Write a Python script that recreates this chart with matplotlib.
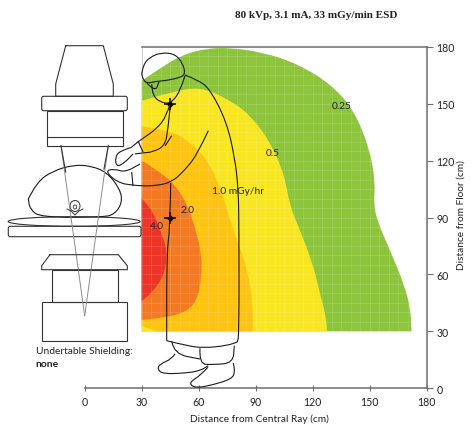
# -*- coding: utf-8 -*-
import matplotlib
matplotlib.use("Agg")
import matplotlib.pyplot as plt
import numpy as np
from matplotlib.patches import PathPatch, FancyBboxPatch, Ellipse, Rectangle
from matplotlib.path import Path

W, H = 474, 427
SANS = "Lato"

# isodose contours in chart units (cm), each runs from the left edge round to its end
green_x = [30, 40, 52, 64, 76, 94, 112, 130, 142, 150, 153, 152, 154, 161, 168, 171.5, 172]
green_y = [162, 169, 176, 179, 179.5, 177, 171, 160, 146, 126, 108, 98, 88, 72, 55, 42, 30]
yellow_x = [30, 45, 61, 76, 86, 97, 105, 108, 113, 120, 124, 127, 127.5]
yellow_y = [151.5, 156, 159, 152, 145, 131, 113, 96, 84, 66, 49, 38, 30]
amber_x = [30, 44, 54, 65, 72, 77, 82, 86, 88.5, 88.5]
amber_y = [138, 136, 131, 120, 104, 87, 73, 61, 44, 30]
amber_base_x = [38, 30]
amber_base_y = [30, 33]
orange_x = [30, 38, 47, 54, 58, 61.5, 61.5, 59, 53, 43, 30]
orange_y = [120, 115, 108, 97, 85, 71, 58, 46, 40, 37.5, 36]
red_x = [30, 35, 40, 43.5, 42, 36, 30]
red_y = [100, 95, 83, 72, 60, 51, 46]
corner_x = [30]
corner_y = [30]

x_ticks = [0, 30, 60, 90, 120, 150, 180]
y_ticks = [0, 30, 60, 90, 120, 150, 180]
marker_x = [45, 45]
marker_y = [150, 90]
level_labels = ["0.25", "0.5", "1.0 mGy/hr", "2.0", "4.0"]
level_x = [135, 99, 67, 54, 38]
level_y = [149, 124, 104, 94, 86]

# line drawing, in picture pixels
hood = [(141.7, 75), (143, 66), (150, 58), (161.7, 53.5), (175, 55), (182.5, 64), (185.5, 75), (180, 78.5), (166.7, 81.5), (155, 82.5), (146.7, 84.5), (143, 80), (141.7, 75)]
mask = [(147, 84), (155, 93), (159, 83)]
collar = [(185, 76.7), (180, 93), (170, 105), (160, 103), (153, 96.7), (151.7, 85)]
back = [(185, 76), (198, 81), (210, 90), (226.7, 123), (235, 160), (238.3, 190), (239, 230), (239, 336), (237.3, 343)]
front = [(170.7, 184), (170, 230), (166.7, 253), (166.7, 341.7)]
hem = [(166.7, 341.7), (186.7, 346.7), (203.3, 349), (226.7, 346.7), (237.3, 343)]
arm_upper = [(170, 105), (166.7, 116.7), (156.7, 130), (141.7, 140), (131.7, 148)]
arm_lower = [(170, 110), (168, 130), (165, 146.7), (153, 153), (141.7, 154), (135, 155)]
hand_upper = [(131.7, 148.3), (120, 151.7), (115, 158.3), (116.7, 168.3), (125, 163.3), (133, 155)]
cuff_upper = [(138, 142), (143, 153)]
arm_far = [(208.3, 131.7), (196.7, 156.7), (183, 173), (171.7, 183), (156.7, 186.7), (140, 187), (125, 185)]
hand_far = [(125, 185), (116.7, 183), (105, 171.7), (115, 170), (125, 173.3), (140, 165)]
cuff_far = [(131.7, 173), (133, 187)]
sleeve = [(171.7, 136.7), (165, 147)]
leg_left = [(171.7, 342.3), (174, 355), (200, 360)]
leg_right = [(200, 349.3), (199, 365), (213, 365.7), (233, 364), (234.3, 346.7)]
shoe_left = [(175, 355), (171.7, 360), (160, 365), (157.3, 370), (163, 375), (186.7, 374), (200, 371.7), (208.3, 366.7)]
shoe_right = [(208, 368.3), (200, 376.7), (191.7, 381.7), (190, 385.7), (196.7, 389), (213.3, 385.7), (231.7, 380), (235, 373), (233.3, 364)]
patient = [(28.3, 200), (36.7, 183), (53.3, 171.7), (73.3, 166), (90, 166.7), (106.7, 173), (120, 190), (122.3, 203.3), (115, 215), (103, 218.3), (40, 218.3), (30, 210), (28.3, 200)]
tube = [(65.7, 46.7), (103.3, 46.7), (113.3, 85), (113.3, 97.3), (55.7, 97.3), (55.7, 85), (65.7, 46.7)]
under = [(50, 255.7), (118.3, 255.7), (127.3, 266.7), (127.3, 270.7), (41.7, 270.7), (41.7, 266.7), (50, 255.7)]
collimator = [[(61, 146.7), (65.7, 173)], [(108.3, 146.7), (104, 170)]]
beam = [[(61, 146.7), (84.7, 316.7)], [(108.3, 146.7), (84.7, 316.7)]]


def smooth(xs, ys, tail_x=(), tail_y=()):
    # quadratic spline through the midpoints, then straight on to any tail points
    pts = list(zip(xs, ys))
    verts, codes = [pts[0]], [Path.MOVETO]
    for a, b in zip(pts[1:-1], pts[2:]):
        verts += [a, ((a[0] + b[0]) / 2, (a[1] + b[1]) / 2)]
        codes += [Path.CURVE3, Path.CURVE3]
    verts.append(pts[-1])
    codes.append(Path.LINETO)
    for p in zip(tail_x, tail_y):
        verts.append(p)
        codes.append(Path.LINETO)
    return Path(verts, codes)


fig = plt.figure(figsize=(W / 100, H / 100), dpi=100)
ax = fig.add_axes([84.7 / W, 1 - 389.3 / H, 342 / W, 341.6 / H])
ax.set_xlim(0, 180)
ax.set_ylim(0, 180)

# filled bands, outermost first
bands = [(green_x, green_y, corner_x, corner_y, "#8CC43C"),
         (yellow_x, yellow_y, corner_x, corner_y, "#F9E622"),
         (amber_x, amber_y, amber_base_x, amber_base_y, "#FFC312"),
         (orange_x, orange_y, [], [], "#F37A22"),
         (red_x, red_y, [], [], "#EC3427")]
patches = []
for bx, by, tx, ty, col in bands:
    p = PathPatch(smooth(bx, by, tx, ty), facecolor=col, edgecolor="none", zorder=2)
    ax.add_patch(p)
    patches.append(p)

# faint white grid shows only through the filled area
for v in np.arange(30, 175, 5):
    ln = ax.plot([v, v], [30, 180], color="white", lw=0.5, alpha=0.16, zorder=3)[0]
    ln.set_clip_path(patches[0])
for v in np.arange(30, 180, 5):
    ln = ax.plot([30, 175], [v, v], color="white", lw=0.5, alpha=0.16, zorder=3)[0]
    ln.set_clip_path(patches[0])

ax.spines["left"].set_visible(False)
ax.plot([30, 30], [30, 180], color="#c8c8c8", lw=0.7, zorder=1)
for sp in ["top", "right", "bottom"]:
    ax.spines[sp].set_color("#6e6e6e")
    ax.spines[sp].set_linewidth(1.1)
ax.spines["top"].set_bounds(30, 180)

ax.yaxis.tick_right()
ax.set_xticks(x_ticks)
ax.set_yticks(y_ticks)
ax.tick_params(axis="x", direction="inout", length=5, width=0.8, color="#6e6e6e", labelsize=7.6, pad=3, labelcolor="#222222")
ax.tick_params(axis="y", direction="out", length=4, width=0.8, color="#6e6e6e", labelsize=7.6, pad=3, labelcolor="#222222")
for t in ax.get_xticklabels() + ax.get_yticklabels():
    t.set_fontfamily(SANS)

for s, x, y in zip(level_labels, level_x, level_y):
    ha = "left" if s.startswith("1.0") else "center"
    ax.text(x, y, s, fontsize=7.3, family=SANS, color="#222222", ha=ha, va="center", zorder=6)
ax.plot(marker_x, marker_y, ls="none", marker="+", ms=9, mew=1.1, color="black", zorder=7)
ax.plot(marker_x, marker_y, ls="none", marker="D", ms=2.6, color="black", zorder=7)

fig.text(259.5 / W, 1 - 419 / H, "Distance from Central Ray (cm)", fontsize=7.3, family=SANS,
         color="#222222", ha="center", va="center")
fig.text(460.7 / W, 1 - 215 / H, "Distance from Floor (cm)", fontsize=7.3, family=SANS,
         color="#222222", ha="center", va="center", rotation=90)
fig.text(316 / W, 1 - 15 / H, "80 kVp, 3.1 mA, 33 mGy/min ESD", fontsize=8, family="Liberation Serif",
         weight="bold", color="#222222", ha="center", va="center")
fig.text(35.5 / W, 1 - 352 / H, "Undertable Shielding:", fontsize=7.4, family=SANS,
         color="#222222", ha="left", va="center")
fig.text(35.5 / W, 1 - 365 / H, "none", fontsize=7.4, family=SANS, weight="bold",
         color="#222222", ha="left", va="center")

# overlay for the line art, y runs downward as in the picture
art = fig.add_axes([0, 0, 1, 1], facecolor="none")
art.set_xlim(0, W)
art.set_ylim(H, 0)
art.axis("off")

for line in beam:
    art.plot(*zip(*line), color="#8c8c8c", lw=0.7)
for line in [tube, under] + collimator:
    art.plot(*zip(*line), color="#333333", lw=0.8)
for x0, y0, x1, y1 in [(41.7, 97.3, 127.3, 111.7), (8.3, 227.3, 141, 237.7)]:
    art.add_patch(FancyBboxPatch((x0, y0), x1 - x0, y1 - y0, boxstyle="round,pad=0,rounding_size=2",
                                 fc="none", ec="#333333", lw=0.8))
art.add_patch(Rectangle((46.7, 111.7), 76, 35, fc="none", ec="#333333", lw=0.8))
art.plot([46.7, 122.7], [137.7, 137.7], color="#333333", lw=0.8)
art.add_patch(Rectangle((51.7, 270.7), 66, 32.6, fc="none", ec="#333333", lw=0.8))
art.add_patch(Rectangle((41.7, 303.3), 85.6, 38.4, fc="none", ec="#333333", lw=0.8))
art.add_patch(Ellipse((74.2, 222.5), 132, 9.6, fc="none", ec="#333333", lw=0.8))
art.add_patch(Ellipse((75, 207), 10, 11, fc="none", ec="#333333", lw=0.7))
art.add_patch(Ellipse((75, 208), 3.5, 4, fc="none", ec="#333333", lw=0.6))
art.plot([67, 71, 75, 79, 83], [210, 212, 216, 212, 210], color="#333333", lw=0.7)

person = [hood, mask, collar, back, front, hem, arm_upper, arm_lower, hand_upper, cuff_upper,
          arm_far, hand_far, cuff_far, sleeve, leg_left, leg_right, shoe_left, shoe_right, patient]
for line in person:
    xs, ys = zip(*line)
    art.add_patch(PathPatch(smooth(list(xs), list(ys)), fc="none", ec="#1a1a1a", lw=0.8))

fig.savefig("out.png", dpi=100)
